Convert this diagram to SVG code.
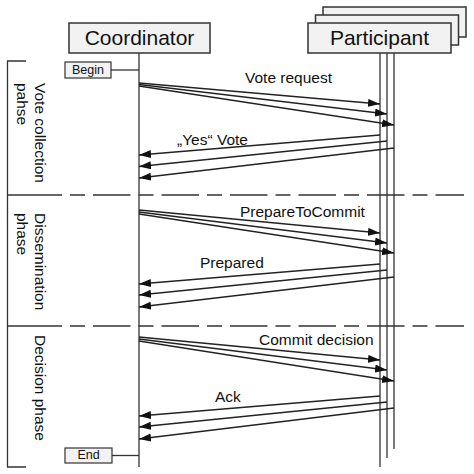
<svg xmlns="http://www.w3.org/2000/svg" width="474" height="474" viewBox="0 0 474 474">
<style>
.box{fill:#f2f2f2;stroke:#333;stroke-width:1.5}
.life{stroke:#333;stroke-width:1.3;fill:none}
.msg{stroke:#222;stroke-width:1.3;fill:none}
.arr{marker-end:url(#ah)}
.dash{stroke:#333;stroke-width:1.4;fill:none;stroke-dasharray:15 8 37.5 8}
.t{font-family:"Liberation Sans",Arial,sans-serif;fill:#111}
.big{font-size:21px;text-anchor:middle}
.sm{font-size:12.5px;text-anchor:middle}
.lbl{font-size:15.5px}
</style>
<defs>
<marker id="ah" markerUnits="userSpaceOnUse" markerWidth="13" markerHeight="9" refX="12" refY="4" orient="auto">
<path d="M0,0 L12,4 L0,8 z" fill="#111"/>
</marker>
</defs>
<g id="phases">
<path class="life" d="M26,61 H7.5 V467 H26"/>
<line class="life" x1="7" y1="195" x2="62" y2="195"/>
<line class="dash" x1="70" y1="195" x2="464" y2="195"/>
<line class="life" x1="7" y1="326" x2="62" y2="326"/>
<line class="dash" x1="70" y1="326" x2="464" y2="326"/>
<text class="t lbl" transform="translate(35,83) rotate(90)">Vote collection<tspan x="0" dy="18">pahse</tspan></text>
<text class="t lbl" transform="translate(35,213) rotate(90)">Dissemination<tspan x="0" dy="18">phase</tspan></text>
<text class="t lbl" transform="translate(35,335) rotate(90)">Decision phase</text>
</g>
<g id="coordinator">
<rect class="box" x="69" y="23" width="141" height="30"/>
<text class="t big" x="139.5" y="45">Coordinator</text>
<line class="life" x1="139" y1="53" x2="139" y2="467"/>
</g>
<g id="begin">
<rect class="box" x="65" y="62" width="46" height="16" style="stroke-width:1.2"/>
<text class="t sm" x="88" y="74">Begin</text>
<line class="life" x1="111" y1="70" x2="139" y2="70"/>
</g>
<g id="end">
<rect class="box" x="65" y="448" width="47" height="15" style="stroke-width:1.2"/>
<text class="t sm" x="88.5" y="459">End</text>
<line class="life" x1="112" y1="455.5" x2="139" y2="455.5"/>
</g>
<g id="participant">
<rect class="box" x="323" y="7" width="143" height="30"/>
<rect class="box" x="315.5" y="15" width="143" height="30"/>
<rect class="box" x="308" y="23" width="143" height="30"/>
<text class="t big" x="379.5" y="45">Participant</text>
<line class="life" x1="380" y1="53" x2="380" y2="467"/>
<line class="life" x1="387" y1="53" x2="387" y2="458"/>
<line class="life" x1="394" y1="53" x2="394" y2="449"/>
</g>
<g id="connectors">
<line class="msg arr" x1="139" y1="83" x2="380" y2="104"/>
<line class="msg arr" x1="139" y1="84.5" x2="387" y2="114"/>
<line class="msg arr" x1="139" y1="86" x2="394" y2="125"/>
<text class="t lbl" x="245" y="83">Vote request</text>
<line class="msg arr" x1="380" y1="135" x2="139" y2="155"/>
<line class="msg arr" x1="387" y1="141" x2="139" y2="166.5"/>
<line class="msg arr" x1="394" y1="148" x2="139" y2="178"/>
<text class="t lbl" x="177" y="145">„Yes“ Vote</text>
<line class="msg arr" x1="139" y1="210" x2="380" y2="233"/>
<line class="msg arr" x1="139" y1="212" x2="387" y2="243"/>
<line class="msg arr" x1="139" y1="214" x2="394" y2="253"/>
<text class="t lbl" x="240" y="217">PrepareToCommit</text>
<line class="msg arr" x1="380" y1="264" x2="139" y2="284"/>
<line class="msg arr" x1="387" y1="270" x2="139" y2="295"/>
<line class="msg arr" x1="394" y1="277" x2="139" y2="307"/>
<text class="t lbl" x="200" y="268">Prepared</text>
<line class="msg arr" x1="139" y1="337" x2="380" y2="360"/>
<line class="msg arr" x1="139" y1="339" x2="387" y2="370"/>
<line class="msg arr" x1="139" y1="341" x2="394" y2="381"/>
<text class="t lbl" x="259" y="345">Commit decision</text>
<line class="msg arr" x1="380" y1="396" x2="139" y2="416"/>
<line class="msg arr" x1="387" y1="402" x2="139" y2="427"/>
<line class="msg arr" x1="394" y1="408" x2="139" y2="439"/>
<text class="t lbl" x="215" y="402">Ack</text>
</g>
</svg>
